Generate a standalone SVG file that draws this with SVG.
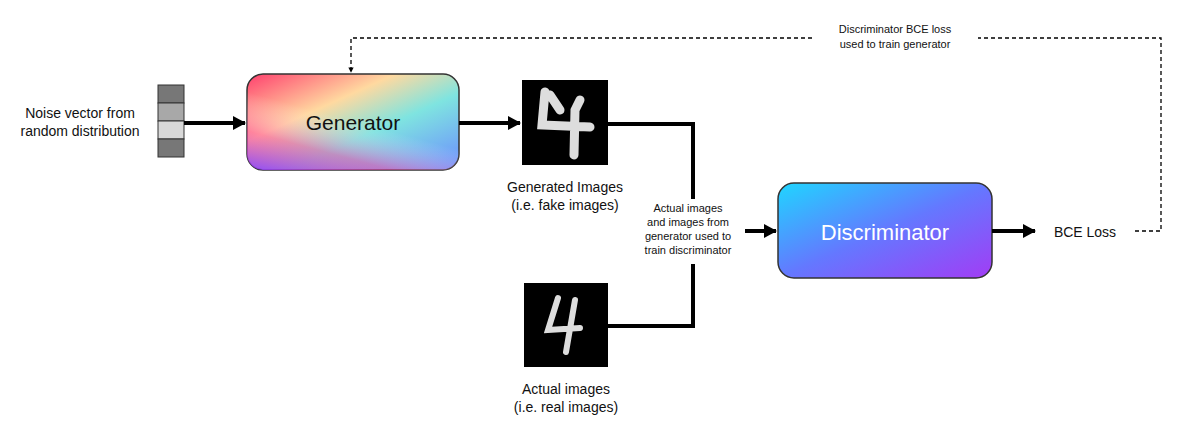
<svg xmlns="http://www.w3.org/2000/svg" width="1200" height="437" viewBox="0 0 1200 437">
<style>
text{font-family:"Liberation Sans",Arial,sans-serif;fill:#111}
.lbl{font-size:14px}
.sm{font-size:11px}
.solid{stroke:#000;stroke-width:4;fill:none}
.dash{stroke:#000;stroke-width:1.3;fill:none;stroke-dasharray:4 3}
</style>
<defs>
<marker id="ah" markerWidth="4" markerHeight="4" refX="3.5" refY="2" orient="auto"><path d="M0,0L4,2L0,4Z" fill="#000"/></marker>
<marker id="as" markerWidth="14" markerHeight="14" refX="12" refY="7" orient="auto" markerUnits="userSpaceOnUse"><path d="M0,0L13,7L0,14Z" fill="#000"/></marker>
<linearGradient id="g1" x1="0" y1="0" x2="1" y2="1">
<stop offset="0" stop-color="#ff3f6e"/><stop offset="0.35" stop-color="#ffd9a0"/><stop offset="0.6" stop-color="#7fe4e0"/><stop offset="1" stop-color="#6b8cff"/></linearGradient>
<linearGradient id="g1b" x1="0" y1="1" x2="0.6" y2="0">
<stop offset="0" stop-color="#8a3cff" stop-opacity="0.9"/><stop offset="0.3" stop-color="#ff3fa0" stop-opacity="0.5"/><stop offset="0.6" stop-color="#ffffff" stop-opacity="0"/></linearGradient>
<linearGradient id="g2" x1="0" y1="0" x2="1" y2="1">
<stop offset="0" stop-color="#1fd6ff"/><stop offset="0.5" stop-color="#6478ff"/><stop offset="1" stop-color="#a23cf5"/></linearGradient>
</defs>
<g id="noise">
<rect x="158" y="85" width="26" height="18" fill="#777" stroke="#333"/>
<rect x="158" y="103" width="26" height="18" fill="#a8a8a8" stroke="#333"/>
<rect x="158" y="121" width="26" height="18" fill="#d8d8d8" stroke="#333"/>
<rect x="158" y="139" width="26" height="18" fill="#777" stroke="#333"/>
<text class="lbl" x="80" y="118" text-anchor="middle">Noise vector from</text>
<text class="lbl" x="80" y="136" text-anchor="middle">random distribution</text>
</g>
<g id="generator">
<rect x="247" y="74" width="212" height="96" rx="16" fill="url(#g1)" stroke="#333" stroke-width="1.5"/>
<rect x="247" y="74" width="212" height="96" rx="16" fill="url(#g1b)"/>
<text x="353" y="130" text-anchor="middle" font-size="21">Generator</text>
</g>
<g id="fake">
<rect x="522" y="80" width="86" height="85" fill="#000"/>
<path d="M545,92 L542,125 L590,127 M580,100 L575,110 L574,155 M550,95 L560,110" stroke="#ddd" stroke-width="9" fill="none" stroke-linecap="round"/>
<text class="lbl" x="565" y="192" text-anchor="middle">Generated Images</text>
<text class="lbl" x="565" y="210" text-anchor="middle">(i.e. fake images)</text>
</g>
<g id="real">
<rect x="524" y="283" width="84" height="84" fill="#000"/>
<path d="M558,298 L548,330 L580,328 M575,300 L566,352" stroke="#ddd" stroke-width="6" fill="none" stroke-linecap="round"/>
<text class="lbl" x="566" y="394" text-anchor="middle">Actual images</text>
<text class="lbl" x="566" y="412" text-anchor="middle">(i.e. real images)</text>
</g>
<g id="discriminator">
<rect x="778" y="183" width="214" height="95" rx="16" fill="url(#g2)" stroke="#333" stroke-width="1.5"/>
<text x="885" y="240" text-anchor="middle" font-size="22" style="fill:#fff">Discriminator</text>
</g>
<g id="bce"><text class="lbl" x="1085" y="237" text-anchor="middle">BCE Loss</text></g>
<g id="connectors">
<line class="solid" x1="184" y1="123" x2="245" y2="123" marker-end="url(#as)"/>
<line class="solid" x1="459" y1="123" x2="520" y2="123" marker-end="url(#as)"/>
<polyline class="solid" points="608,124 693,124 693,199"/>
<polyline class="solid" points="608,326 693,326 693,264"/>
<line class="solid" x1="745" y1="231" x2="776" y2="231" marker-end="url(#as)"/>
<line class="solid" x1="992" y1="231" x2="1035" y2="231" marker-end="url(#as)"/>
<polyline class="dash" points="1135,231 1161,231 1161,38 978,38"/>
<polyline class="dash" points="812,38 351,38 351,72" marker-end="url(#ah)"/>
<text class="sm" x="895" y="33" text-anchor="middle">Discriminator BCE loss</text>
<text class="sm" x="895" y="48" text-anchor="middle">used to train generator</text>
<text class="sm" x="688" y="212" text-anchor="middle">Actual images</text>
<text class="sm" x="688" y="226" text-anchor="middle">and images from</text>
<text class="sm" x="688" y="240" text-anchor="middle">generator used to</text>
<text class="sm" x="688" y="254" text-anchor="middle">train discriminator</text>
</g>
</svg>
